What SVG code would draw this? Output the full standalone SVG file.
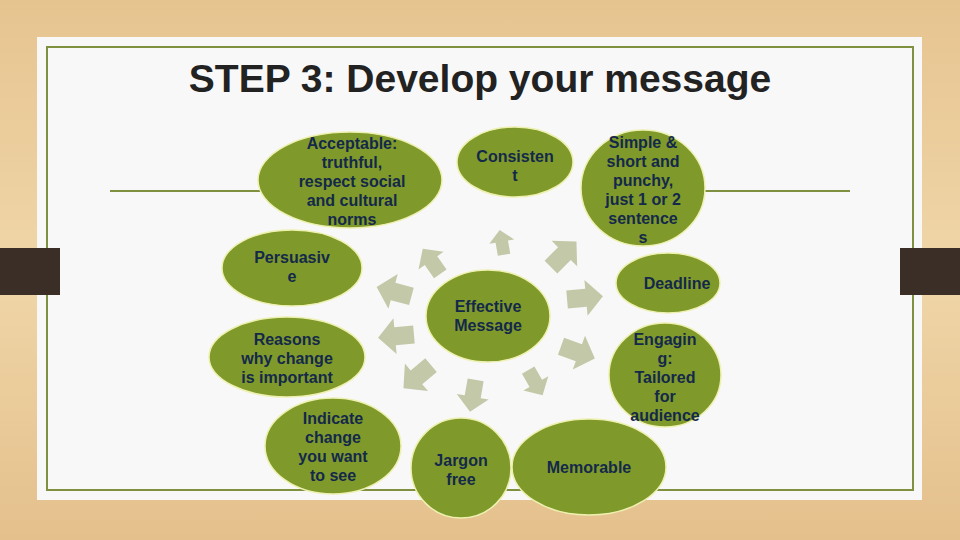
<svg xmlns="http://www.w3.org/2000/svg" width="960" height="540" viewBox="0 0 960 540">
<defs>
<linearGradient id="wood" x1="0" y1="0" x2="0" y2="1"><stop offset="0" stop-color="#e6c490"/><stop offset="0.5" stop-color="#f0d6a8"/><stop offset="1" stop-color="#e4c08c"/></linearGradient>
<path id="arr" d="M-17,-9 L2,-9 L2,-18 L19,0 L2,18 L2,9 L-17,9 Z"/>
</defs>
<style>
.n{fill:#7f9a2a;stroke:#eef0b0;stroke-width:1.5}
.t{font-family:"Liberation Sans",Arial,sans-serif;font-weight:bold;font-size:16px;fill:#14284a;text-anchor:middle}
.a{fill:#c3c9a8}
</style>
<rect width="960" height="540" fill="url(#wood)"/>
<rect x="37" y="37" width="885" height="463" fill="#f8f8f8"/>
<rect x="47" y="47" width="866" height="443" fill="none" stroke="#7f9040" stroke-width="2"/>
<rect x="0" y="248" width="60" height="47" fill="#3a2e26"/>
<rect x="900" y="248" width="60" height="47" fill="#3a2e26"/>
<line x1="110" y1="191" x2="260" y2="191" stroke="#7f9040" stroke-width="2"/>
<line x1="700" y1="191" x2="850" y2="191" stroke="#7f9040" stroke-width="2"/>
<text x="480" y="92" font-family="Liberation Sans,Arial,sans-serif" font-weight="bold" font-size="39" fill="#222" text-anchor="middle">STEP 3: Develop your message</text>
<g id="connectors">
<use href="#arr" class="a" transform="translate(502,243) rotate(-100) scale(0.7)"/>
<use href="#arr" class="a" transform="translate(432,262) rotate(-125) scale(0.85)"/>
<use href="#arr" class="a" transform="translate(395,292) rotate(-165)"/>
<use href="#arr" class="a" transform="translate(397,336) rotate(175)"/>
<use href="#arr" class="a" transform="translate(418,376) rotate(140)"/>
<use href="#arr" class="a" transform="translate(473,395) rotate(100) scale(0.9)"/>
<use href="#arr" class="a" transform="translate(535,382) rotate(60) scale(0.8)"/>
<use href="#arr" class="a" transform="translate(577,352) rotate(20)"/>
<use href="#arr" class="a" transform="translate(584,298) rotate(-5)"/>
<use href="#arr" class="a" transform="translate(563,255) rotate(-45)"/>
</g>
<g id="effective"><ellipse class="n" cx="488" cy="316" rx="62" ry="46"/><text class="t" y="312"><tspan x="488">Effective</tspan><tspan x="488" dy="19">Message</tspan></text></g>
<g id="acceptable"><ellipse class="n" cx="350" cy="180" rx="92" ry="48"/><text class="t" y="149"><tspan x="352">Acceptable:</tspan><tspan x="352" dy="19">truthful,</tspan><tspan x="352" dy="19">respect social</tspan><tspan x="352" dy="19">and cultural</tspan><tspan x="352" dy="19">norms</tspan></text></g>
<g id="consistent"><ellipse class="n" cx="515" cy="162" rx="58" ry="35"/><text class="t" y="162"><tspan x="515">Consisten</tspan><tspan x="515" dy="19">t</tspan></text></g>
<g id="simple"><ellipse class="n" cx="643" cy="188" rx="62" ry="58"/><text class="t" y="148"><tspan x="643">Simple &amp;</tspan><tspan x="643" dy="19">short and</tspan><tspan x="643" dy="19">punchy,</tspan><tspan x="643" dy="19">just 1 or 2</tspan><tspan x="643" dy="19">sentence</tspan><tspan x="643" dy="19">s</tspan></text></g>
<g id="persuasive"><ellipse class="n" cx="292" cy="268" rx="70" ry="38"/><text class="t" y="263"><tspan x="292">Persuasiv</tspan><tspan x="292" dy="19">e</tspan></text></g>
<g id="deadline"><ellipse class="n" cx="668" cy="283" rx="52" ry="30"/><text class="t" x="677" y="289">Deadline</text></g>
<g id="reasons"><ellipse class="n" cx="287" cy="357" rx="78" ry="40"/><text class="t" y="345"><tspan x="287">Reasons</tspan><tspan x="287" dy="19">why change</tspan><tspan x="287" dy="19">is important</tspan></text></g>
<g id="engaging"><ellipse class="n" cx="665" cy="375" rx="56" ry="52"/><text class="t" y="345"><tspan x="665">Engagin</tspan><tspan x="665" dy="19">g:</tspan><tspan x="665" dy="19">Tailored</tspan><tspan x="665" dy="19">for</tspan><tspan x="665" dy="19">audience</tspan></text></g>
<g id="indicate"><ellipse class="n" cx="333" cy="446" rx="68" ry="48"/><text class="t" y="424"><tspan x="333">Indicate</tspan><tspan x="333" dy="19">change</tspan><tspan x="333" dy="19">you want</tspan><tspan x="333" dy="19">to see</tspan></text></g>
<g id="jargon"><ellipse class="n" cx="461" cy="468" rx="50" ry="50"/><text class="t" y="466"><tspan x="461">Jargon</tspan><tspan x="461" dy="19">free</tspan></text></g>
<g id="memorable"><ellipse class="n" cx="589" cy="467" rx="77" ry="48"/><text class="t" x="589" y="473">Memorable</text></g>
</svg>
